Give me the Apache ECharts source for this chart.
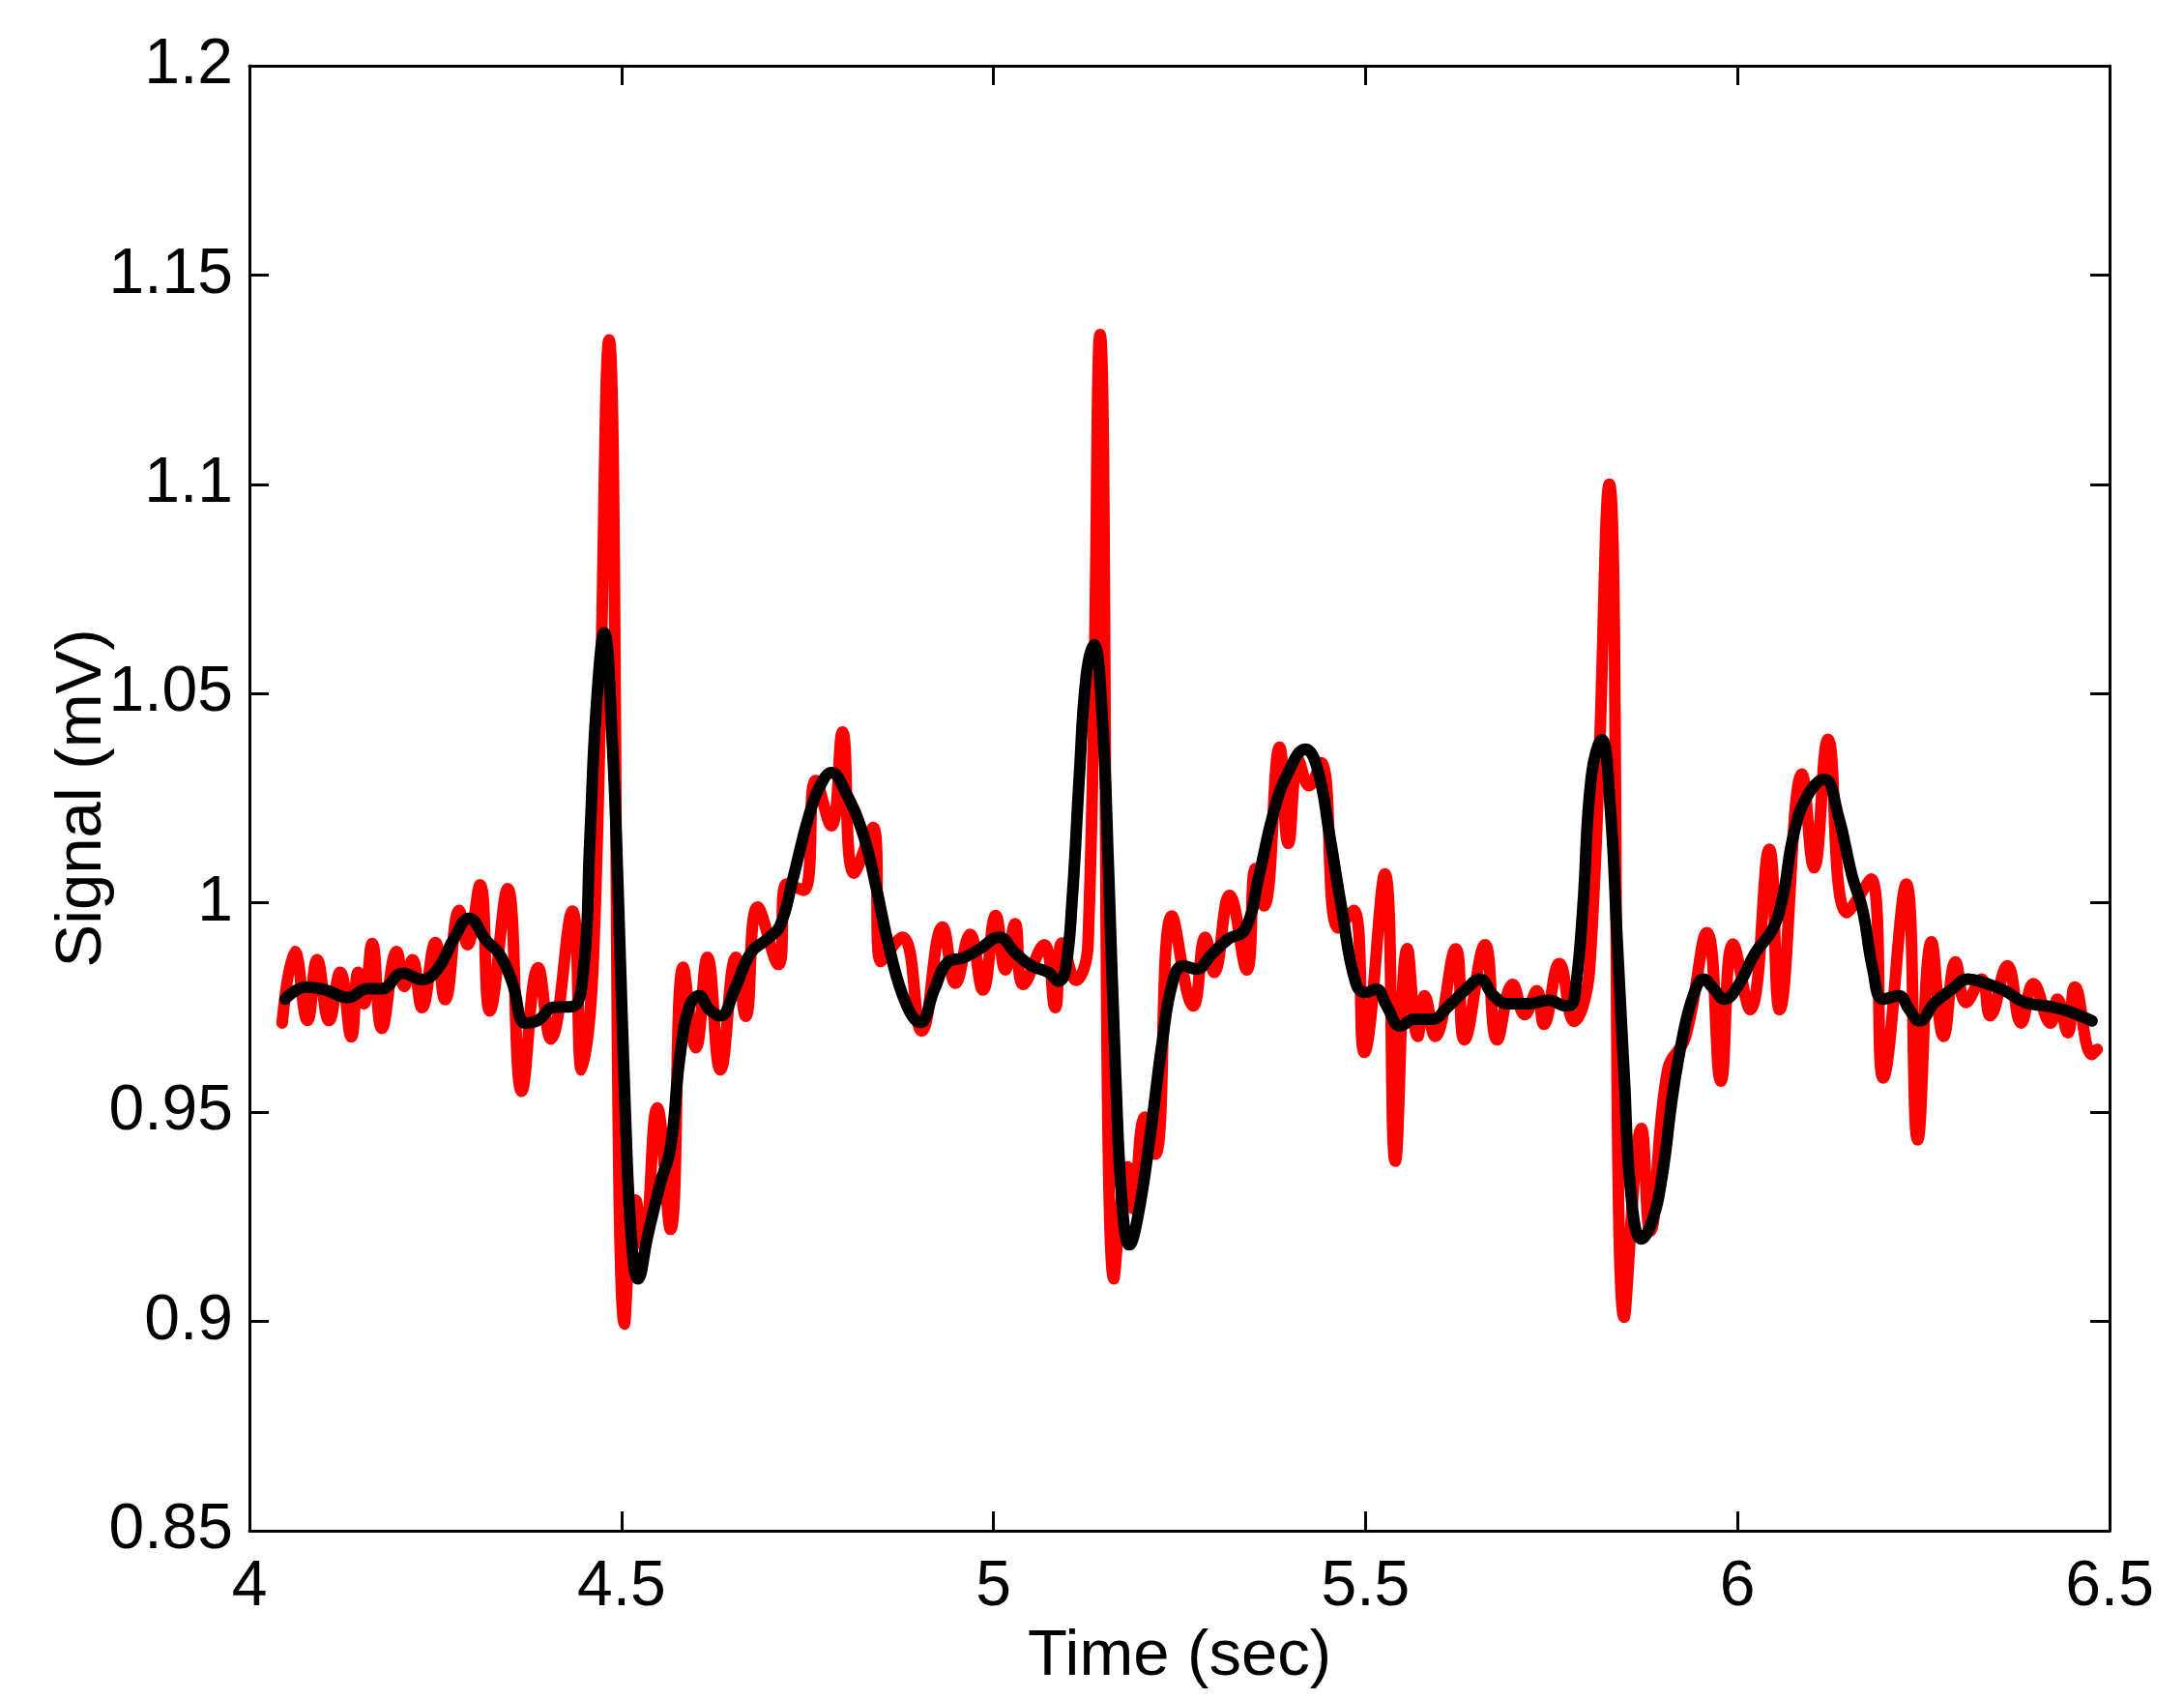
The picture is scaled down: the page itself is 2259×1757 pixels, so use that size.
<!DOCTYPE html>
<html>
<head>
<meta charset="utf-8">
<script src="https://cdn.jsdelivr.net/npm/echarts@6/dist/echarts.min.js"></script>
<style>html,body{margin:0;padding:0;background:#fff}#c{width:2259px;height:1757px}</style>
</head>
<body>
<div id="c"></div>
<script>
// Raw (noisy) ECG signal: extrema
const rawTime = [4.044,4.061,4.078,4.091,4.107,4.122,4.137,4.146,4.154,4.165,4.178,4.198,4.208,4.219,4.232,4.250,4.263,4.282,4.293,4.310,4.323,4.347,4.366,4.388,4.405,4.434,4.4465,4.463,4.4834,4.5041,4.519,4.530,4.548,4.566,4.583,4.600,4.6155,4.633,4.654,4.667,4.683,4.711,4.722,4.745,4.761,4.782,4.797,4.8125,4.8385,4.8485,4.8775,4.9035,4.9316,4.949,4.9685,4.9858,5.003,5.016,5.029,5.040,5.068,5.083,5.092,5.1108,5.127,5.1433,5.1618,5.1804,5.1873,5.2036,5.2175,5.2398,5.2686,5.2848,5.2964,5.3173,5.3405,5.3521,5.3637,5.3846,5.3962,5.4101,5.424,5.4403,5.4635,5.4843,5.4983,5.5261,5.540,5.5562,5.5702,5.5795,5.5934,5.6213,5.6329,5.6607,5.6769,5.6978,5.7141,5.7303,5.7396,5.7605,5.780,5.8013,5.8277,5.8477,5.8709,5.8825,5.906,5.930,5.959,5.9776,5.9938,6.017,6.0426,6.0565,6.0867,6.1029,6.1215,6.147,6.1795,6.1957,6.2268,6.2421,6.2607,6.2769,6.2931,6.3071,6.3280,6.3396,6.3627,6.3813,6.3976,6.4207,6.4300,6.4440,6.4533,6.4765,6.4834];
const rawSignal = [0.9713,0.9884,0.9719,0.9864,0.9719,0.9834,0.968,0.9834,0.9759,0.9903,0.970,0.9884,0.980,0.9864,0.975,0.9905,0.9769,0.9982,0.990,1.0043,0.9742,1.0034,0.955,0.9845,0.9675,0.998,0.9601,0.990,1.1345,0.8994,0.929,0.918,0.951,0.922,0.9846,0.9654,0.987,0.9601,0.987,0.9729,0.999,0.9853,1.0045,1.003,1.0292,1.0184,1.0408,1.0071,1.018,0.986,0.9918,0.9694,0.9942,0.9808,0.9925,0.9792,0.997,0.984,0.995,0.9805,0.990,0.975,0.9904,0.9815,0.990,1.1358,0.9102,0.9369,0.927,0.9488,0.940,0.9969,0.9754,0.9918,0.9834,1.0018,0.984,1.0082,0.9993,1.0372,1.0142,1.034,1.028,1.0335,0.994,0.9982,0.9643,1.0069,0.9383,0.9891,0.9681,0.9778,0.9681,0.989,0.9673,0.990,0.9673,0.9805,0.9733,0.979,0.971,0.9855,0.9717,0.9846,1.100,0.901,0.9461,0.9216,0.960,0.968,0.9929,0.9574,0.9902,0.9745,1.0128,0.9745,1.0308,1.0084,1.0391,0.9977,1.0057,0.9582,1.0045,0.9434,0.9907,0.9681,0.9859,0.9762,0.9818,0.9730,0.985,0.9713,0.9807,0.9713,0.977,0.969,0.9799,0.9638,0.965];

// Filtered (smooth) signal
const filtTime = [4.048,4.0762,4.1022,4.1325,4.1585,4.178,4.2062,4.2322,4.2538,4.2755,4.295,4.3188,4.3361,4.3534,4.3708,4.3881,4.4097,4.4336,4.449,4.4574,4.466,4.4769,4.4877,4.4963,4.505,4.5137,4.5223,4.5353,4.5527,4.5657,4.5787,4.5916,4.6046,4.6176,4.6328,4.6523,4.674,4.6956,4.713,4.7302,4.7519,4.7692,4.7822,4.7995,4.8255,4.8428,4.8602,4.8818,4.9013,4.9208,4.9382,4.9598,4.9815,5.0074,5.0291,5.0507,5.0737,5.0876,5.0969,5.1061,5.1154,5.1247,5.1349,5.1456,5.1549,5.1642,5.1734,5.1827,5.1943,5.2106,5.2268,5.2407,5.2547,5.2732,5.2918,5.315,5.3382,5.3567,5.3753,5.3939,5.4194,5.4356,5.4519,5.4681,5.4867,5.5006,5.5145,5.5284,5.547,5.5655,5.5888,5.612,5.6352,5.6537,5.6723,5.6909,5.7187,5.7465,5.7698,5.776,5.7827,5.792,5.8036,5.8175,5.8291,5.8384,5.8477,5.857,5.8709,5.8848,5.8987,5.9126,5.9266,5.9405,5.9544,5.9683,5.9823,6.0008,6.024,6.0472,6.0611,6.075,6.0936,6.1168,6.1354,6.154,6.1679,6.1818,6.1957,6.2166,6.2305,6.2444,6.2653,6.2885,6.3094,6.33,6.3581,6.386,6.4138,6.4417,6.4765];
const filtSignal = [0.977,0.9799,0.9792,0.9774,0.9795,0.9795,0.9832,0.9817,0.9844,0.9917,0.9963,0.9909,0.9878,0.9809,0.9713,0.972,0.9751,0.9752,0.984,1.0144,1.0462,1.0645,1.0383,0.9985,0.9508,0.919,0.9102,0.9205,0.9333,0.9412,0.9635,0.9754,0.9778,0.9746,0.973,0.9794,0.9881,0.9913,0.9945,1.0056,1.0208,1.0287,1.0311,1.0271,1.016,1.0033,0.989,0.9762,0.9714,0.9794,0.9858,0.9869,0.989,0.9918,0.9881,0.985,0.9834,0.9813,0.9842,1.0017,1.0303,1.0542,1.0617,1.0462,1.0064,0.9587,0.9269,0.9183,0.9253,0.9444,0.9667,0.981,0.985,0.9842,0.9874,0.9913,0.9937,1.0064,1.0208,1.0303,1.0367,1.0319,1.016,0.9985,0.981,0.9786,0.9794,0.9754,0.9706,0.9722,0.9722,0.9754,0.9794,0.9818,0.9778,0.9759,0.9759,0.9767,0.9754,0.9755,0.980,0.9985,1.0303,1.039,1.0224,0.9905,0.9587,0.930,0.9197,0.9237,0.9348,0.9539,0.9683,0.9778,0.9818,0.9794,0.977,0.9802,0.9881,0.9937,1.0017,1.016,1.0255,1.0295,1.0208,1.0064,0.9985,0.9842,0.977,0.9778,0.9746,0.9718,0.9762,0.9794,0.9818,0.981,0.9791,0.9762,0.9754,0.9743,0.9718];

const xTicks = {min: 4, max: 6.5, interval: 0.5};
const yTicks = {min: 0.85, max: 1.2, interval: 0.05};

const FONT = "'Liberation Sans', Arial, Helvetica, sans-serif";
const rawData = rawTime.map((t, i) => [t, rawSignal[i]]);
const filtData = filtTime.map((t, i) => [t, filtSignal[i]]);

const axLine = {show: true, lineStyle: {color: '#000', width: 3}};
const axTick = {show: true, inside: true, length: 20, lineStyle: {color: '#000', width: 3}};

const chart = echarts.init(document.getElementById('c'), null, {renderer: 'canvas'});
chart.setOption({
  backgroundColor: '#fff',
  animation: false,
  grid: {left: 258, right: 77, top: 68, bottom: 174, containLabel: false},
  xAxis: [{
    type: 'value', min: xTicks.min, max: xTicks.max, interval: xTicks.interval,
    position: 'bottom',
    name: 'Time (sec)', nameLocation: 'middle', nameGap: 95,
    nameTextStyle: {fontFamily: FONT, fontSize: 67, color: '#000'},
    axisLine: axLine, axisTick: axTick, splitLine: {show: false},
    axisLabel: {fontFamily: FONT, fontSize: 66, color: '#000', margin: 26}
  }, {
    type: 'value', min: xTicks.min, max: xTicks.max, interval: xTicks.interval,
    position: 'top', axisLine: axLine, axisTick: axTick,
    splitLine: {show: false}, axisLabel: {show: false}
  }],
  yAxis: [{
    type: 'value', min: yTicks.min, max: yTicks.max, interval: yTicks.interval,
    position: 'left',
    name: 'Signal (mV)', nameLocation: 'middle', nameGap: 139, nameRotate: 90,
    nameMoveOverlap: false,
    nameTextStyle: {fontFamily: FONT, fontSize: 67, color: '#000'},
    axisLine: axLine, axisTick: axTick, splitLine: {show: false},
    axisLabel: {fontFamily: FONT, fontSize: 66, color: '#000', margin: 17}
  }, {
    type: 'value', min: yTicks.min, max: yTicks.max, interval: yTicks.interval,
    position: 'right', axisLine: axLine, axisTick: axTick,
    splitLine: {show: false}, axisLabel: {show: false}
  }],
  series: [{
    name: 'raw', type: 'line', data: rawData, showSymbol: false,
    smooth: 0.45,
    lineStyle: {color: '#ff0000', width: 12, cap: 'round', join: 'round'},
    xAxisIndex: 0, yAxisIndex: 0, z: 2
  }, {
    name: 'filtered', type: 'line', data: filtData, showSymbol: false,
    smooth: 0.45,
    lineStyle: {color: '#000000', width: 12, cap: 'round', join: 'round'},
    xAxisIndex: 0, yAxisIndex: 0, z: 3
  }]
});
</script>
</body>
</html>
